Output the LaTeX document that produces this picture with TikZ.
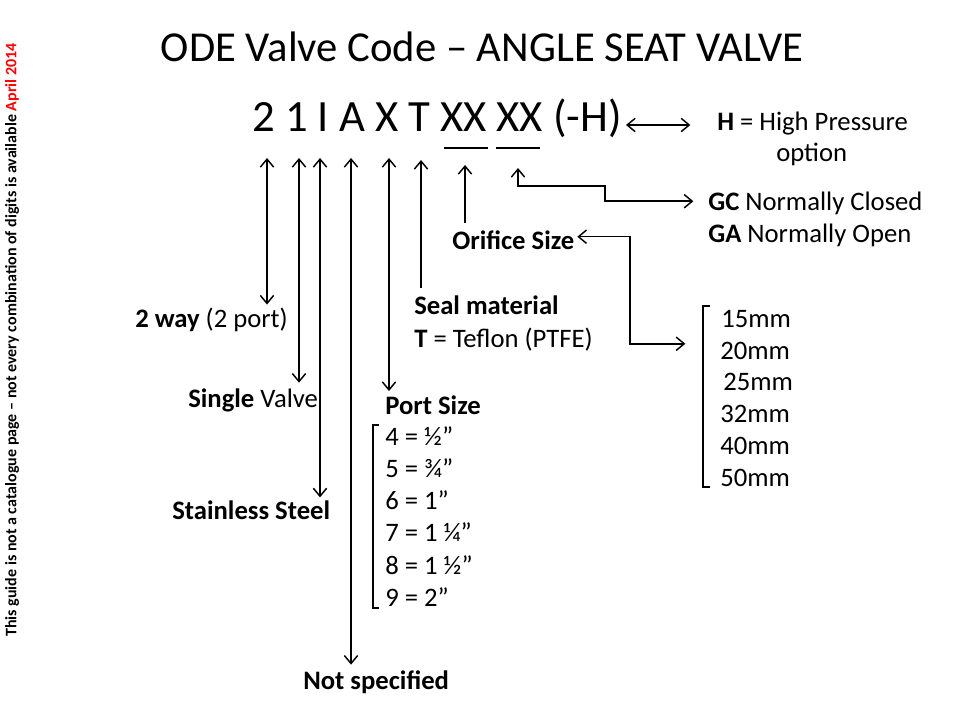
\documentclass[tikz,border=0pt]{standalone}
\usepackage{fontspec}
\setmainfont{Carlito}
\usetikzlibrary{arrows.meta}

\begin{document}
\begin{tikzpicture}[x=0.75pt,y=-0.75pt,font=\fontsize{20}{24}\selectfont,
  lbl/.style={anchor=base west,inner sep=0pt},
  ptr/.style={-{Straight Barb[length=6pt,width=10pt]},line width=1.1pt},
  dptr/.style={{Straight Barb[length=6pt,width=10pt]}-{Straight Barb[length=6pt,width=10pt]},line width=1.1pt}]
  \useasboundingbox (0,0) rectangle (960,720);

  % side note
  \node[rotate=90,font=\fontsize{12}{14}\selectfont\bfseries] (note) at (12,340)
    {This guide is not a catalogue page -- not every combination of digits is available \textcolor{red}{April 2014}};

  % title and code
  \node[font=\fontsize{32}{38}\selectfont] (title) at (482,47) {ODE Valve Code – ANGLE SEAT VALVE};
  \node[lbl,font=\fontsize{33.5}{40}\selectfont] (code) at (252,132) {2 1 I A X T XX XX (-H)};
  \draw[line width=1.1pt] (444,148) -- (488,148);
  \draw[line width=1.1pt] (496,148) -- (540,148);

  % digit positions
  \coordinate (c1) at (267,158);
  \coordinate (c2) at (299,158);
  \coordinate (c3) at (320,158);
  \coordinate (c4) at (351,158);
  \coordinate (c5) at (389,158);
  \coordinate (c6) at (421,160);
  \coordinate (c7) at (465,165);
  \coordinate (c8) at (518,168);
  \coordinate (k8) at (605,186);
  \coordinate (k9) at (630,238);
  \coordinate (h0) at (626,125);

  % labels
  \node[lbl] (way) at (135,327) {\textbf{2 way} (2 port)};
  \node[lbl] (single) at (188,407) {\textbf{Single} Valve};
  \node[lbl] (steel) at (172,519) {\textbf{Stainless Steel}};
  \node[lbl] (nospec) at (303,689) {\textbf{Not specified}};
  \node[lbl] (seal) at (414,315) {\textbf{Seal material}};
  \node[lbl] (teflon) at (414,347) {\textbf{T} = Teflon (PTFE)};
  \node[lbl] (orifice) at (452,250) {\textbf{Orifice Size}};
  \node[lbl] (gc) at (708,211) {\textbf{GC} Normally Closed};
  \node[lbl] (ga) at (708,243) {\textbf{GA} Normally Open};
  \node[lbl] (hp) at (717,131) {\textbf{H} = High Pressure};
  \node[lbl] (opt) at (776,162) {option};

  % port size list
  \node[lbl] (port) at (385,414) {\textbf{Port Size}};
  \node[lbl] (p4) at (385,445) {4 = ½”};
  \node[lbl] (p5) at (385,477) {5 = ¾”};
  \node[lbl] (p6) at (385,509) {6 = 1”};
  \node[lbl] (p7) at (385,541) {7 = 1 ¼”};
  \node[lbl] (p8) at (385,574) {8 = 1 ½”};
  \node[lbl] (p9) at (385,606) {9 = 2”};
  \draw[line width=1.1pt] (379,425) -- (373,425) -- (373,608) -- (379,608);

  % orifice size list
  \node[lbl] (m15) at (721,327) {15mm};
  \node[lbl] (m20) at (720,359) {20mm};
  \node[lbl] (m25) at (723,390) {25mm};
  \node[lbl] (m32) at (720,422) {32mm};
  \node[lbl] (m40) at (720,454) {40mm};
  \node[lbl] (m50) at (720,486) {50mm};
  \draw[line width=1.1pt] (710,306) -- (703,306) -- (703,487) -- (710,487);

  % connectors
  \draw[dptr] (c1) -- ([yshift=2pt]c1 |- way.north);
  \draw[dptr] (c2) -- ([yshift=4pt]c2 |- single.north);
  \draw[dptr] (c3) -- ([yshift=2pt]c3 |- steel.north);
  \draw[dptr] (c4) -- ([yshift=4pt]c4 |- nospec.north);
  \draw[dptr] (c5) -- ([yshift=3pt]c5 |- port.north);
  \draw[ptr] ([yshift=6pt]c6 |- seal.north) -- (c6);
  \draw[ptr] ([yshift=6pt]c7 |- orifice.north) -- (c7);
  \draw[dptr] (c8) |- (k8) |- ([xshift=-11pt,yshift=2pt]gc.west);
  \draw[dptr] ([xshift=2pt,yshift=3pt]orifice.east) -| (k9) |- ([xshift=-26pt,yshift=5pt]m20.west);
  \draw[dptr,shorten >=20pt] (h0) -- (h0 -| hp.west);
\end{tikzpicture}
\end{document}
